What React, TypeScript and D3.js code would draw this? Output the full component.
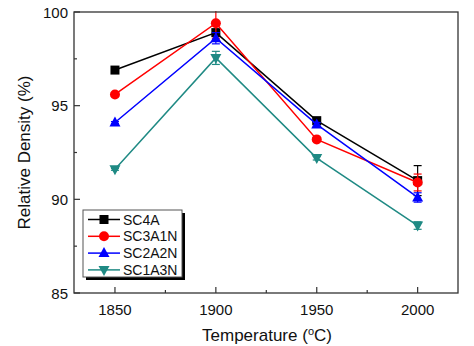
import React from "react";
import * as d3 from "d3";

const temps = [1850, 1900, 1950, 2000];
const seriesNames = ["SC4A", "SC3A1N", "SC2A2N", "SC1A3N"];
const sc4a = [96.9, 98.9, 94.2, 91.0];
const sc3a1n = [95.6, 99.4, 93.2, 90.9];
const sc2a2n = [94.1, 98.6, 94.0, 90.1];
const sc1a3n = [91.6, 97.55, 92.2, 88.6];
const sc4aErr = [0.05, 0.15, 0.1, 0.8];
const sc3a1nErr = [0.05, 0.8, 0.1, 0.45];
const sc2a2nErr = [0.05, 0.3, 0.1, 0.25];
const sc1a3nErr = [0.05, 0.35, 0.1, 0.2];
const xTicks = [1850, 1900, 1950, 2000];
const xMinor = [1875, 1925, 1975];
const yTicks = [85, 90, 95, 100];
const yMinor = [87.5, 92.5, 97.5];

const colors = ["#000000", "#ff0000", "#0000ff", "#1f8a84"];
const shapes = ["square", "circle", "up", "down"];

const left = 74, right = 458, top = 12, bottom = 293;

function Marker({ shape, x, y, color }: { shape: string; x: number; y: number; color: string }) {
  if (shape === "square") return <rect x={x - 4.5} y={y - 4.5} width={9} height={9} fill={color} />;
  if (shape === "circle") return <circle cx={x} cy={y} r={5} fill={color} />;
  if (shape === "up") return <path d={`M${x},${y - 6}L${x + 5.5},${y + 4}L${x - 5.5},${y + 4}Z`} fill={color} />;
  return <path d={`M${x},${y + 6}L${x + 5.5},${y - 4}L${x - 5.5},${y - 4}Z`} fill={color} />;
}

export default function App() {
  const x = d3.scaleLinear().domain([1829.7, 2020]).range([left, right]);
  const y = d3.scaleLinear().domain([85, 100]).range([bottom, top]);
  const data = [sc4a, sc3a1n, sc2a2n, sc1a3n];
  const errs = [sc4aErr, sc3a1nErr, sc2a2nErr, sc1a3nErr];
  const line = d3
    .line<number>()
    .x((_, i) => x(temps[i]))
    .y((d) => y(d));
  const font = "Liberation Sans, Arial, sans-serif";
  const legX = 83, legY = 210, legW = 99, legH = 67;
  return (
    <svg width={474} height={346} style={{ position: "absolute", left: 0, top: 0 }} fontFamily={font}>
      <defs>
        <clipPath id="plot">
          <rect x={left} y={top - 1} width={right - left} height={bottom - top + 1} />
        </clipPath>
      </defs>
      <rect width={474} height={346} fill="#fff" />
      <g clipPath="url(#plot)">
        {data.map((vals, s) => (
          <g key={s}>
            {vals.map((v, i) => {
              const e = errs[s][i];
              const cx = x(temps[i]);
              return (
                <g key={i} stroke={colors[s]} strokeWidth={1.2}>
                  <line x1={cx} x2={cx} y1={y(v - e)} y2={y(v + e)} />
                  <line x1={cx - 4} x2={cx + 4} y1={y(v - e)} y2={y(v - e)} />
                  <line x1={cx - 4} x2={cx + 4} y1={y(v + e)} y2={y(v + e)} />
                </g>
              );
            })}
            <path d={line(vals) || ""} fill="none" stroke={colors[s]} strokeWidth={1.5} />
            {vals.map((v, i) => (
              <Marker key={i} shape={shapes[s]} x={x(temps[i])} y={y(v)} color={colors[s]} />
            ))}
          </g>
        ))}
      </g>
      <rect x={left} y={top} width={right - left} height={bottom - top} fill="none" stroke="#333" strokeWidth={1.3} />
      {xTicks.map((t) => (
        <g key={t}>
          <line x1={x(t)} x2={x(t)} y1={bottom} y2={bottom - 6} stroke="#333" strokeWidth={1.2} />
          <text x={x(t)} y={bottom + 22} textAnchor="middle" fontSize={15} fill="#111">{t}</text>
        </g>
      ))}
      {xMinor.map((t) => (
        <line key={t} x1={x(t)} x2={x(t)} y1={bottom} y2={bottom - 3} stroke="#333" strokeWidth={1.2} />
      ))}
      {yTicks.map((t) => (
        <g key={t}>
          <line x1={left} x2={left + 6} y1={y(t)} y2={y(t)} stroke="#333" strokeWidth={1.2} />
          <text x={left - 6} y={y(t) + 5.5} textAnchor="end" fontSize={15} fill="#111">{t}</text>
        </g>
      ))}
      {yMinor.map((t) => (
        <line key={t} x1={left} x2={left + 3} y1={y(t)} y2={y(t)} stroke="#333" strokeWidth={1.2} />
      ))}
      <text x={267} y={341} textAnchor="middle" fontSize={17} fill="#111">
        Temperature (<tspan dy={-6} fontSize={11}>o</tspan><tspan dy={6}>C)</tspan>
      </text>
      <text transform={`translate(30,${(top + bottom) / 2}) rotate(-90)`} textAnchor="middle" fontSize={17} fill="#111">
        Relative Density (%)
      </text>
      <rect x={legX + 3} y={legY + 3} width={legW} height={legH} fill="#000" />
      <rect x={legX} y={legY} width={legW} height={legH} fill="#fff" stroke="#555" strokeWidth={1} />
      {seriesNames.map((n, i) => {
        const ly = legY + 9.5 + i * 16.8;
        return (
          <g key={n}>
            <line x1={legX + 5} x2={legX + 37} y1={ly} y2={ly} stroke={colors[i]} strokeWidth={1.5} />
            <Marker shape={shapes[i]} x={legX + 21} y={ly} color={colors[i]} />
            <text x={legX + 40} y={ly + 5} fontSize={14} fill="#111">{n}</text>
          </g>
        );
      })}
    </svg>
  );
}
